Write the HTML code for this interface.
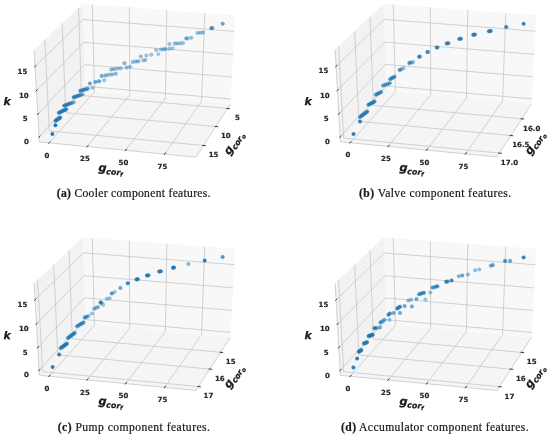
<!DOCTYPE html>
<html lang="en">
<head>
<meta charset="utf-8">
<title>Component features</title>
<style>
html,body{margin:0;padding:0;background:#fff;}
body{width:550px;height:437px;overflow:hidden;}
svg{display:block;}
.cap{font-family:"Liberation Serif","DejaVu Serif",serif;font-size:11.6px;fill:#1a1a1a;stroke:#1a1a1a;stroke-width:0.22px;}
.cap .b{font-weight:bold;}
</style>
</head>
<body>
<svg width="550" height="437" viewBox="0 0 550 437">
<rect width="550" height="437" fill="#ffffff"/>
<g transform="translate(0,0)">
<polygon points="85.41,90.99 230.56,103.85 235.24,15.4 82.82,3.83" fill="#f8f8f8"/>
<polygon points="85.41,90.99 39.4,141.95 34.11,49.81 82.82,3.83" fill="#f2f2f2"/>
<polygon points="85.41,90.99 39.4,141.95 195.97,157.1 230.56,103.85" fill="#f5f5f5"/>
<g fill="none" stroke="#c6c6c6" stroke-width="0.8" stroke-linejoin="round">
<polyline points="39.11,136.98 85.27,86.27 230.81,99.07"/>
<polyline points="37.8,114.11 84.62,64.58 231.98,77.07"/>
<polyline points="36.45,90.62 83.96,42.35 233.17,54.51"/>
<polyline points="35.06,66.49 83.28,19.56 234.39,31.38"/>
<polyline points="49.13,142.89 94.44,91.79 92.3,4.55"/>
<polyline points="87.17,146.57 129.75,94.92 129.35,7.37"/>
<polyline points="125.65,150.29 165.43,98.08 166.81,10.21"/>
<polyline points="164.64,154.07 201.55,101.28 204.75,13.09"/>
<polyline points="227.54,108.5 81.39,95.44 78.58,7.84"/>
<polyline points="215.83,126.52 65.8,112.71 62.11,23.38"/>
<polyline points="203.5,145.5 49.4,130.87 44.73,39.79"/>
<polyline points="34.11,49.81 39.4,141.95 195.97,157.1 230.56,103.85"/>
</g>
<g stroke="#262626" stroke-width="0.9" fill="none">
<line x1="40.25" y1="135.73" x2="38.37" y2="137.8"/>
<line x1="38.97" y1="112.88" x2="37.04" y2="114.91"/>
<line x1="37.64" y1="89.41" x2="35.68" y2="91.41"/>
<line x1="36.28" y1="65.31" x2="34.28" y2="67.26"/>
<line x1="50.39" y1="141.47" x2="48.46" y2="143.64"/>
<line x1="88.38" y1="145.11" x2="86.54" y2="147.35"/>
<line x1="126.8" y1="148.78" x2="125.04" y2="151.09"/>
<line x1="165.73" y1="152.51" x2="164.06" y2="154.89"/>
<line x1="226.35" y1="108.39" x2="229.93" y2="108.71"/>
<line x1="214.64" y1="126.41" x2="218.22" y2="126.74"/>
<line x1="202.31" y1="145.39" x2="205.89" y2="145.73"/>
</g>
<g fill="#1f77b4" stroke="#1f77b4" stroke-width="0.45">
<circle cx="52.4" cy="133.9" r="1.75" fill-opacity="1" stroke-opacity="1"/>
<circle cx="55.4" cy="125.3" r="1.75" fill-opacity="1" stroke-opacity="1"/>
<circle cx="55.6" cy="120.7" r="1.75" fill-opacity="0.9" stroke-opacity="1"/>
<circle cx="56.75" cy="119.92" r="1.75" fill-opacity="0.9" stroke-opacity="1"/>
<circle cx="57.9" cy="119.15" r="1.75" fill-opacity="0.9" stroke-opacity="1"/>
<circle cx="59.05" cy="118.38" r="1.75" fill-opacity="0.9" stroke-opacity="1"/>
<circle cx="60.2" cy="117.6" r="1.75" fill-opacity="0.9" stroke-opacity="1"/>
<circle cx="58.9" cy="112.8" r="1.75" fill-opacity="0.9" stroke-opacity="1"/>
<circle cx="60.5" cy="112" r="1.75" fill-opacity="0.9" stroke-opacity="1"/>
<circle cx="62" cy="111.2" r="1.75" fill-opacity="0.85" stroke-opacity="0.95"/>
<circle cx="63.4" cy="110.6" r="1.75" fill-opacity="0.85" stroke-opacity="0.95"/>
<circle cx="64.9" cy="109.9" r="1.75" fill-opacity="0.8" stroke-opacity="0.9"/>
<circle cx="66.2" cy="109.3" r="1.75" fill-opacity="0.8" stroke-opacity="0.9"/>
<circle cx="64.4" cy="105.6" r="1.75" fill-opacity="0.9" stroke-opacity="1"/>
<circle cx="66.2" cy="105" r="1.75" fill-opacity="0.85" stroke-opacity="0.95"/>
<circle cx="68" cy="104.3" r="1.75" fill-opacity="0.85" stroke-opacity="0.95"/>
<circle cx="69.8" cy="103.6" r="1.75" fill-opacity="0.8" stroke-opacity="0.9"/>
<circle cx="71.8" cy="102.9" r="1.75" fill-opacity="0.7" stroke-opacity="0.8"/>
<circle cx="73.9" cy="102.2" r="1.75" fill-opacity="0.45" stroke-opacity="0.55"/>
<circle cx="73.8" cy="97.2" r="1.75" fill-opacity="0.85" stroke-opacity="0.95"/>
<circle cx="75.5" cy="96.7" r="1.75" fill-opacity="0.85" stroke-opacity="0.95"/>
<circle cx="77.2" cy="96.1" r="1.75" fill-opacity="0.8" stroke-opacity="0.9"/>
<circle cx="79" cy="95.5" r="1.75" fill-opacity="0.75" stroke-opacity="0.85"/>
<circle cx="80.8" cy="95" r="1.75" fill-opacity="0.65" stroke-opacity="0.75"/>
<circle cx="82.7" cy="94.4" r="1.75" fill-opacity="0.45" stroke-opacity="0.55"/>
<circle cx="80.4" cy="90.8" r="1.75" fill-opacity="0.8" stroke-opacity="0.9"/>
<circle cx="82.2" cy="90.3" r="1.75" fill-opacity="0.8" stroke-opacity="0.9"/>
<circle cx="84" cy="89.8" r="1.75" fill-opacity="0.75" stroke-opacity="0.85"/>
<circle cx="85.8" cy="89.2" r="1.75" fill-opacity="0.75" stroke-opacity="0.85"/>
<circle cx="87.7" cy="88.8" r="1.75" fill-opacity="0.7" stroke-opacity="0.8"/>
<circle cx="92.6" cy="87.8" r="1.75" fill-opacity="0.4" stroke-opacity="0.5"/>
<circle cx="89.9" cy="83.4" r="1.75" fill-opacity="0.6" stroke-opacity="0.7"/>
<circle cx="95.4" cy="81.9" r="1.75" fill-opacity="0.65" stroke-opacity="0.75"/>
<circle cx="99.1" cy="81.3" r="1.75" fill-opacity="0.65" stroke-opacity="0.75"/>
<circle cx="104.2" cy="80.2" r="1.75" fill-opacity="0.4" stroke-opacity="0.5"/>
<circle cx="101.7" cy="75.9" r="1.75" fill-opacity="0.6" stroke-opacity="0.7"/>
<circle cx="105.5" cy="75.5" r="1.75" fill-opacity="0.55" stroke-opacity="0.65"/>
<circle cx="108.7" cy="74.8" r="1.75" fill-opacity="0.5" stroke-opacity="0.6"/>
<circle cx="112" cy="74.4" r="1.75" fill-opacity="0.5" stroke-opacity="0.6"/>
<circle cx="115.7" cy="73.7" r="1.75" fill-opacity="0.5" stroke-opacity="0.6"/>
<circle cx="111.3" cy="69.4" r="1.75" fill-opacity="0.5" stroke-opacity="0.6"/>
<circle cx="114.2" cy="68.9" r="1.75" fill-opacity="0.5" stroke-opacity="0.6"/>
<circle cx="117.5" cy="68.5" r="1.75" fill-opacity="0.45" stroke-opacity="0.55"/>
<circle cx="120.7" cy="68.3" r="1.75" fill-opacity="0.45" stroke-opacity="0.55"/>
<circle cx="124.4" cy="63.2" r="1.75" fill-opacity="0.5" stroke-opacity="0.6"/>
<circle cx="126.6" cy="67.4" r="1.75" fill-opacity="0.45" stroke-opacity="0.55"/>
<circle cx="130.1" cy="66.7" r="1.75" fill-opacity="0.45" stroke-opacity="0.55"/>
<circle cx="132.7" cy="61.9" r="1.75" fill-opacity="0.45" stroke-opacity="0.55"/>
<circle cx="135.6" cy="61.5" r="1.75" fill-opacity="0.5" stroke-opacity="0.6"/>
<circle cx="138.2" cy="61.3" r="1.75" fill-opacity="0.5" stroke-opacity="0.6"/>
<circle cx="143.2" cy="60.4" r="1.75" fill-opacity="0.4" stroke-opacity="0.5"/>
<circle cx="145.4" cy="60" r="1.75" fill-opacity="0.4" stroke-opacity="0.5"/>
<circle cx="140.8" cy="56.5" r="1.75" fill-opacity="0.45" stroke-opacity="0.55"/>
<circle cx="146.3" cy="55.4" r="1.75" fill-opacity="0.4" stroke-opacity="0.5"/>
<circle cx="151.3" cy="54.7" r="1.75" fill-opacity="0.4" stroke-opacity="0.5"/>
<circle cx="158.3" cy="54.1" r="1.75" fill-opacity="0.35" stroke-opacity="0.45"/>
<circle cx="156.1" cy="49.9" r="1.75" fill-opacity="0.4" stroke-opacity="0.5"/>
<circle cx="160.7" cy="49.5" r="1.75" fill-opacity="0.4" stroke-opacity="0.5"/>
<circle cx="163.3" cy="49.3" r="1.75" fill-opacity="0.45" stroke-opacity="0.55"/>
<circle cx="165.5" cy="49.1" r="1.75" fill-opacity="0.5" stroke-opacity="0.6"/>
<circle cx="169.4" cy="48.8" r="1.75" fill-opacity="0.4" stroke-opacity="0.5"/>
<circle cx="172.7" cy="48.2" r="1.75" fill-opacity="0.35" stroke-opacity="0.45"/>
<circle cx="169.4" cy="44" r="1.75" fill-opacity="0.4" stroke-opacity="0.5"/>
<circle cx="174.8" cy="43.6" r="1.75" fill-opacity="0.45" stroke-opacity="0.55"/>
<circle cx="177.5" cy="43.4" r="1.75" fill-opacity="0.45" stroke-opacity="0.55"/>
<circle cx="180.3" cy="43.2" r="1.75" fill-opacity="0.4" stroke-opacity="0.5"/>
<circle cx="182.9" cy="43" r="1.75" fill-opacity="0.4" stroke-opacity="0.5"/>
<circle cx="186.2" cy="38.4" r="1.75" fill-opacity="0.5" stroke-opacity="0.6"/>
<circle cx="191.2" cy="37.7" r="1.75" fill-opacity="0.45" stroke-opacity="0.55"/>
<circle cx="187.5" cy="38.3" r="1.75" fill-opacity="0.4" stroke-opacity="0.5"/>
<circle cx="197.5" cy="32.9" r="1.75" fill-opacity="0.45" stroke-opacity="0.55"/>
<circle cx="200.4" cy="32.7" r="1.75" fill-opacity="0.45" stroke-opacity="0.55"/>
<circle cx="203" cy="32.5" r="1.75" fill-opacity="0.45" stroke-opacity="0.55"/>
<circle cx="211.3" cy="28.2" r="1.75" fill-opacity="0.6" stroke-opacity="0.7"/>
<circle cx="212.3" cy="28" r="1.75" fill-opacity="0.6" stroke-opacity="0.7"/>
<circle cx="222.7" cy="23.7" r="1.75" fill-opacity="0.65" stroke-opacity="0.75"/>
</g>
<g font-family="'DejaVu Sans','Liberation Sans',sans-serif" font-weight="bold" font-size="7" fill="#262626" stroke="#262626" stroke-width="0.18" text-anchor="middle">
<text x="26.51" y="144.13">0</text>
<text x="25.2" y="121.26">5</text>
<text x="23.85" y="97.77">10</text>
<text x="22.46" y="73.64">15</text>
<text x="46.93" y="157.54">0</text>
<text x="84.97" y="161.22">25</text>
<text x="123.45" y="164.94">50</text>
<text x="162.44" y="168.72">75</text>
<text x="237.54" y="120.35">5</text>
<text x="225.83" y="138.37">10</text>
<text x="213.5" y="157.35">15</text>
</g>
<g font-family="'DejaVu Sans','Liberation Sans',sans-serif" font-weight="bold" font-style="italic" fill="#1a1a1a" stroke="#1a1a1a" stroke-width="0.25">
<text x="3.6" y="105.3" font-size="10.8">k</text>
<text transform="translate(98.2,171.3) rotate(4.2)" font-size="11.3">g<tspan font-size="7.9" dy="2.3">cor</tspan><tspan font-size="5.6" dy="1.3">f</tspan></text>
<text transform="translate(229.6,155.6) rotate(-57)" font-size="11.3" letter-spacing="-0.15">g<tspan font-size="7.9" dy="2.2">cor</tspan><tspan font-size="6" dy="1.2">o</tspan></text>
</g>
</g>
<g transform="translate(301,-0.2)">
<polygon points="85.41,90.99 230.56,103.85 235.24,15.4 82.82,3.83" fill="#f8f8f8"/>
<polygon points="85.41,90.99 39.4,141.95 34.11,49.81 82.82,3.83" fill="#f2f2f2"/>
<polygon points="85.41,90.99 39.4,141.95 195.97,157.1 230.56,103.85" fill="#f5f5f5"/>
<g fill="none" stroke="#c6c6c6" stroke-width="0.8" stroke-linejoin="round">
<polyline points="39.11,136.98 85.27,86.27 230.81,99.07"/>
<polyline points="37.8,114.11 84.62,64.58 231.98,77.07"/>
<polyline points="36.45,90.62 83.96,42.35 233.17,54.51"/>
<polyline points="35.06,66.49 83.28,19.56 234.39,31.38"/>
<polyline points="49.13,142.89 94.44,91.79 92.3,4.55"/>
<polyline points="87.17,146.57 129.75,94.92 129.35,7.37"/>
<polyline points="125.65,150.29 165.43,98.08 166.81,10.21"/>
<polyline points="164.64,154.07 201.55,101.28 204.75,13.09"/>
<polyline points="220.72,119 72.3,105.5 68.99,16.89"/>
<polyline points="209.83,135.77 57.81,121.56 53.65,31.37"/>
<polyline points="198.44,153.3 42.67,138.33 37.59,46.53"/>
<polyline points="34.11,49.81 39.4,141.95 195.97,157.1 230.56,103.85"/>
</g>
<g stroke="#262626" stroke-width="0.9" fill="none">
<line x1="40.25" y1="135.73" x2="38.37" y2="137.8"/>
<line x1="38.97" y1="112.88" x2="37.04" y2="114.91"/>
<line x1="37.64" y1="89.41" x2="35.68" y2="91.41"/>
<line x1="36.28" y1="65.31" x2="34.28" y2="67.26"/>
<line x1="50.39" y1="141.47" x2="48.46" y2="143.64"/>
<line x1="88.38" y1="145.11" x2="86.54" y2="147.35"/>
<line x1="126.8" y1="148.78" x2="125.04" y2="151.09"/>
<line x1="165.73" y1="152.51" x2="164.06" y2="154.89"/>
<line x1="219.53" y1="118.89" x2="223.11" y2="119.21"/>
<line x1="208.63" y1="135.65" x2="212.22" y2="135.99"/>
<line x1="197.24" y1="153.19" x2="200.82" y2="153.53"/>
</g>
<g fill="#1f77b4" stroke="#1f77b4" stroke-width="0.45">
<circle cx="52.5" cy="134.2" r="1.75" fill-opacity="0.95" stroke-opacity="1"/>
<circle cx="59" cy="121.7" r="1.75" fill-opacity="0.9" stroke-opacity="1"/>
<circle cx="59.2" cy="117.1" r="1.75" fill-opacity="0.85" stroke-opacity="0.95"/>
<circle cx="60.6" cy="116.04" r="1.75" fill-opacity="0.85" stroke-opacity="0.95"/>
<circle cx="62" cy="114.98" r="1.75" fill-opacity="0.85" stroke-opacity="0.95"/>
<circle cx="63.4" cy="113.92" r="1.75" fill-opacity="0.85" stroke-opacity="0.95"/>
<circle cx="64.8" cy="112.86" r="1.75" fill-opacity="0.85" stroke-opacity="0.95"/>
<circle cx="66.2" cy="111.8" r="1.75" fill-opacity="0.85" stroke-opacity="0.95"/>
<circle cx="67.5" cy="105" r="1.75" fill-opacity="0.8" stroke-opacity="0.9"/>
<circle cx="68.98" cy="104.2" r="1.75" fill-opacity="0.8" stroke-opacity="0.9"/>
<circle cx="70.45" cy="103.4" r="1.75" fill-opacity="0.8" stroke-opacity="0.9"/>
<circle cx="71.92" cy="102.6" r="1.75" fill-opacity="0.8" stroke-opacity="0.9"/>
<circle cx="73.4" cy="101.8" r="1.75" fill-opacity="0.8" stroke-opacity="0.9"/>
<circle cx="74.9" cy="94.9" r="1.75" fill-opacity="0.75" stroke-opacity="0.85"/>
<circle cx="76.6" cy="94" r="1.75" fill-opacity="0.75" stroke-opacity="0.85"/>
<circle cx="78.3" cy="93.1" r="1.75" fill-opacity="0.75" stroke-opacity="0.85"/>
<circle cx="80" cy="92.2" r="1.75" fill-opacity="0.75" stroke-opacity="0.85"/>
<circle cx="82.2" cy="85.8" r="1.75" fill-opacity="0.7" stroke-opacity="0.8"/>
<circle cx="84.37" cy="85.03" r="1.75" fill-opacity="0.7" stroke-opacity="0.8"/>
<circle cx="86.53" cy="84.27" r="1.75" fill-opacity="0.7" stroke-opacity="0.8"/>
<circle cx="88.7" cy="83.5" r="1.75" fill-opacity="0.7" stroke-opacity="0.8"/>
<circle cx="89.2" cy="79.4" r="1.75" fill-opacity="0.7" stroke-opacity="0.8"/>
<circle cx="90.63" cy="78.57" r="1.75" fill-opacity="0.7" stroke-opacity="0.8"/>
<circle cx="92.07" cy="77.73" r="1.75" fill-opacity="0.7" stroke-opacity="0.8"/>
<circle cx="93.5" cy="76.9" r="1.75" fill-opacity="0.7" stroke-opacity="0.8"/>
<circle cx="98.7" cy="70.2" r="1.75" fill-opacity="0.7" stroke-opacity="0.8"/>
<circle cx="100.2" cy="69.5" r="1.75" fill-opacity="0.5" stroke-opacity="0.6"/>
<circle cx="102.5" cy="68.4" r="1.75" fill-opacity="0.4" stroke-opacity="0.5"/>
<circle cx="108.4" cy="63.3" r="1.75" fill-opacity="0.75" stroke-opacity="0.85"/>
<circle cx="110.2" cy="62.8" r="1.75" fill-opacity="0.6" stroke-opacity="0.7"/>
<circle cx="112.2" cy="62.3" r="1.75" fill-opacity="0.4" stroke-opacity="0.5"/>
<circle cx="118.2" cy="57" r="1.75" fill-opacity="0.8" stroke-opacity="0.9"/>
<circle cx="119" cy="56.8" r="1.75" fill-opacity="0.5" stroke-opacity="0.6"/>
<circle cx="126.4" cy="52.3" r="1.75" fill-opacity="0.8" stroke-opacity="0.9"/>
<circle cx="127.2" cy="52.1" r="1.75" fill-opacity="0.4" stroke-opacity="0.5"/>
<circle cx="135.7" cy="47.7" r="1.75" fill-opacity="0.8" stroke-opacity="0.9"/>
<circle cx="136.7" cy="47.6" r="1.75" fill-opacity="0.5" stroke-opacity="0.6"/>
<circle cx="145.7" cy="43.6" r="1.75" fill-opacity="0.85" stroke-opacity="0.95"/>
<circle cx="147.3" cy="43.4" r="1.75" fill-opacity="0.85" stroke-opacity="0.95"/>
<circle cx="158.3" cy="39.1" r="1.75" fill-opacity="0.85" stroke-opacity="0.95"/>
<circle cx="159.9" cy="38.9" r="1.75" fill-opacity="0.85" stroke-opacity="0.95"/>
<circle cx="172.3" cy="35" r="1.75" fill-opacity="0.9" stroke-opacity="1"/>
<circle cx="173.9" cy="34.8" r="1.75" fill-opacity="0.9" stroke-opacity="1"/>
<circle cx="188" cy="31.4" r="1.75" fill-opacity="0.9" stroke-opacity="1"/>
<circle cx="189.7" cy="31.1" r="1.75" fill-opacity="0.9" stroke-opacity="1"/>
<circle cx="205.2" cy="27.2" r="1.75" fill-opacity="0.9" stroke-opacity="1"/>
<circle cx="222.6" cy="24" r="1.75" fill-opacity="0.9" stroke-opacity="1"/>
</g>
<g font-family="'DejaVu Sans','Liberation Sans',sans-serif" font-weight="bold" font-size="7" fill="#262626" stroke="#262626" stroke-width="0.18" text-anchor="middle">
<text x="26.51" y="144.13">0</text>
<text x="25.2" y="121.26">5</text>
<text x="23.85" y="97.77">10</text>
<text x="22.46" y="73.64">15</text>
<text x="46.93" y="157.54">0</text>
<text x="84.97" y="161.22">25</text>
<text x="123.45" y="164.94">50</text>
<text x="162.44" y="168.72">75</text>
<text x="230.72" y="130.85">16.0</text>
<text x="219.83" y="147.62">16.5</text>
<text x="208.44" y="165.15">17.0</text>
</g>
<g font-family="'DejaVu Sans','Liberation Sans',sans-serif" font-weight="bold" font-style="italic" fill="#1a1a1a" stroke="#1a1a1a" stroke-width="0.25">
<text x="3.6" y="105.3" font-size="10.8">k</text>
<text transform="translate(98.2,171.3) rotate(4.2)" font-size="11.3">g<tspan font-size="7.9" dy="2.3">cor</tspan><tspan font-size="5.6" dy="1.3">f</tspan></text>
<text transform="translate(229.6,155.6) rotate(-57)" font-size="11.3" letter-spacing="-0.15">g<tspan font-size="7.9" dy="2.2">cor</tspan><tspan font-size="6" dy="1.2">o</tspan></text>
</g>
</g>
<g transform="translate(0,233.3)">
<polygon points="85.41,90.99 230.56,103.85 235.24,15.4 82.82,3.83" fill="#f8f8f8"/>
<polygon points="85.41,90.99 39.4,141.95 34.11,49.81 82.82,3.83" fill="#f2f2f2"/>
<polygon points="85.41,90.99 39.4,141.95 195.97,157.1 230.56,103.85" fill="#f5f5f5"/>
<g fill="none" stroke="#c6c6c6" stroke-width="0.8" stroke-linejoin="round">
<polyline points="39.11,136.98 85.27,86.27 230.81,99.07"/>
<polyline points="37.8,114.11 84.62,64.58 231.98,77.07"/>
<polyline points="36.45,90.62 83.96,42.35 233.17,54.51"/>
<polyline points="35.06,66.49 83.28,19.56 234.39,31.38"/>
<polyline points="49.13,142.89 94.44,91.79 92.3,4.55"/>
<polyline points="87.17,146.57 129.75,94.92 129.35,7.37"/>
<polyline points="125.65,150.29 165.43,98.08 166.81,10.21"/>
<polyline points="164.64,154.07 201.55,101.28 204.75,13.09"/>
<polyline points="220.72,119 72.3,105.5 68.99,16.89"/>
<polyline points="209.83,135.77 57.81,121.56 53.65,31.37"/>
<polyline points="198.44,153.3 42.67,138.33 37.59,46.53"/>
<polyline points="34.11,49.81 39.4,141.95 195.97,157.1 230.56,103.85"/>
</g>
<g stroke="#262626" stroke-width="0.9" fill="none">
<line x1="40.25" y1="135.73" x2="38.37" y2="137.8"/>
<line x1="38.97" y1="112.88" x2="37.04" y2="114.91"/>
<line x1="37.64" y1="89.41" x2="35.68" y2="91.41"/>
<line x1="36.28" y1="65.31" x2="34.28" y2="67.26"/>
<line x1="50.39" y1="141.47" x2="48.46" y2="143.64"/>
<line x1="88.38" y1="145.11" x2="86.54" y2="147.35"/>
<line x1="126.8" y1="148.78" x2="125.04" y2="151.09"/>
<line x1="165.73" y1="152.51" x2="164.06" y2="154.89"/>
<line x1="219.53" y1="118.89" x2="223.11" y2="119.21"/>
<line x1="208.63" y1="135.65" x2="212.22" y2="135.99"/>
<line x1="197.24" y1="153.19" x2="200.82" y2="153.53"/>
</g>
<g fill="#1f77b4" stroke="#1f77b4" stroke-width="0.45">
<circle cx="52.6" cy="133.8" r="1.75" fill-opacity="0.95" stroke-opacity="1"/>
<circle cx="59.2" cy="121.3" r="1.75" fill-opacity="0.9" stroke-opacity="1"/>
<circle cx="60.8" cy="114.8" r="1.75" fill-opacity="0.85" stroke-opacity="0.95"/>
<circle cx="62.02" cy="113.92" r="1.75" fill-opacity="0.85" stroke-opacity="0.95"/>
<circle cx="63.24" cy="113.04" r="1.75" fill-opacity="0.85" stroke-opacity="0.95"/>
<circle cx="64.46" cy="112.16" r="1.75" fill-opacity="0.85" stroke-opacity="0.95"/>
<circle cx="65.68" cy="111.28" r="1.75" fill-opacity="0.85" stroke-opacity="0.95"/>
<circle cx="66.9" cy="110.4" r="1.75" fill-opacity="0.85" stroke-opacity="0.95"/>
<circle cx="68" cy="104.7" r="1.75" fill-opacity="0.8" stroke-opacity="0.9"/>
<circle cx="69.32" cy="103.72" r="1.75" fill-opacity="0.8" stroke-opacity="0.9"/>
<circle cx="70.64" cy="102.74" r="1.75" fill-opacity="0.8" stroke-opacity="0.9"/>
<circle cx="71.96" cy="101.76" r="1.75" fill-opacity="0.8" stroke-opacity="0.9"/>
<circle cx="73.28" cy="100.78" r="1.75" fill-opacity="0.8" stroke-opacity="0.9"/>
<circle cx="74.6" cy="99.8" r="1.75" fill-opacity="0.8" stroke-opacity="0.9"/>
<circle cx="77.1" cy="92.9" r="1.75" fill-opacity="0.7" stroke-opacity="0.8"/>
<circle cx="78.7" cy="91.98" r="1.75" fill-opacity="0.7" stroke-opacity="0.8"/>
<circle cx="80.3" cy="91.05" r="1.75" fill-opacity="0.7" stroke-opacity="0.8"/>
<circle cx="81.9" cy="90.12" r="1.75" fill-opacity="0.7" stroke-opacity="0.8"/>
<circle cx="83.5" cy="89.2" r="1.75" fill-opacity="0.7" stroke-opacity="0.8"/>
<circle cx="84.8" cy="84.3" r="1.75" fill-opacity="0.75" stroke-opacity="0.85"/>
<circle cx="86.5" cy="83.5" r="1.75" fill-opacity="0.7" stroke-opacity="0.8"/>
<circle cx="88.5" cy="82.6" r="1.75" fill-opacity="0.5" stroke-opacity="0.6"/>
<circle cx="92.1" cy="80.1" r="1.75" fill-opacity="0.4" stroke-opacity="0.5"/>
<circle cx="94.2" cy="75.4" r="1.75" fill-opacity="0.5" stroke-opacity="0.6"/>
<circle cx="96.2" cy="74.5" r="1.75" fill-opacity="0.5" stroke-opacity="0.6"/>
<circle cx="98.2" cy="73.8" r="1.75" fill-opacity="0.45" stroke-opacity="0.55"/>
<circle cx="100.6" cy="69.1" r="1.75" fill-opacity="0.85" stroke-opacity="0.95"/>
<circle cx="101.4" cy="69.5" r="1.75" fill-opacity="0.6" stroke-opacity="0.7"/>
<circle cx="103.1" cy="71.5" r="1.75" fill-opacity="0.4" stroke-opacity="0.5"/>
<circle cx="106.8" cy="65.4" r="1.75" fill-opacity="0.4" stroke-opacity="0.5"/>
<circle cx="109.7" cy="65" r="1.75" fill-opacity="0.4" stroke-opacity="0.5"/>
<circle cx="111.8" cy="60.1" r="1.75" fill-opacity="0.75" stroke-opacity="0.85"/>
<circle cx="114.6" cy="58.8" r="1.75" fill-opacity="0.4" stroke-opacity="0.5"/>
<circle cx="120.4" cy="54.6" r="1.75" fill-opacity="0.6" stroke-opacity="0.7"/>
<circle cx="127.8" cy="50" r="1.75" fill-opacity="0.9" stroke-opacity="1"/>
<circle cx="136.5" cy="46.1" r="1.75" fill-opacity="0.9" stroke-opacity="1"/>
<circle cx="137.8" cy="45.9" r="1.75" fill-opacity="0.9" stroke-opacity="1"/>
<circle cx="147" cy="42.2" r="1.75" fill-opacity="0.9" stroke-opacity="1"/>
<circle cx="148.4" cy="42" r="1.75" fill-opacity="0.9" stroke-opacity="1"/>
<circle cx="159.2" cy="38.2" r="1.75" fill-opacity="0.9" stroke-opacity="1"/>
<circle cx="160.8" cy="38" r="1.75" fill-opacity="0.9" stroke-opacity="1"/>
<circle cx="173" cy="34.5" r="1.75" fill-opacity="0.9" stroke-opacity="1"/>
<circle cx="174" cy="34.3" r="1.75" fill-opacity="0.9" stroke-opacity="1"/>
<circle cx="188.4" cy="30.8" r="1.75" fill-opacity="0.5" stroke-opacity="0.6"/>
<circle cx="204.7" cy="27.3" r="1.75" fill-opacity="0.9" stroke-opacity="1"/>
<circle cx="222.6" cy="23.7" r="1.75" fill-opacity="0.75" stroke-opacity="0.85"/>
</g>
<g font-family="'DejaVu Sans','Liberation Sans',sans-serif" font-weight="bold" font-size="7" fill="#262626" stroke="#262626" stroke-width="0.18" text-anchor="middle">
<text x="26.51" y="144.13">0</text>
<text x="25.2" y="121.26">5</text>
<text x="23.85" y="97.77">10</text>
<text x="22.46" y="73.64">15</text>
<text x="46.93" y="157.54">0</text>
<text x="84.97" y="161.22">25</text>
<text x="123.45" y="164.94">50</text>
<text x="162.44" y="168.72">75</text>
<text x="230.72" y="130.85">15</text>
<text x="219.83" y="147.62">16</text>
<text x="208.44" y="165.15">17</text>
</g>
<g font-family="'DejaVu Sans','Liberation Sans',sans-serif" font-weight="bold" font-style="italic" fill="#1a1a1a" stroke="#1a1a1a" stroke-width="0.25">
<text x="3.6" y="105.3" font-size="10.8">k</text>
<text transform="translate(98.2,171.3) rotate(4.2)" font-size="11.3">g<tspan font-size="7.9" dy="2.3">cor</tspan><tspan font-size="5.6" dy="1.3">f</tspan></text>
<text transform="translate(229.6,155.6) rotate(-57)" font-size="11.3" letter-spacing="-0.15">g<tspan font-size="7.9" dy="2.2">cor</tspan><tspan font-size="6" dy="1.2">o</tspan></text>
</g>
</g>
<g transform="translate(301,233.4)">
<polygon points="85.41,90.99 230.56,103.85 235.24,15.4 82.82,3.83" fill="#f8f8f8"/>
<polygon points="85.41,90.99 39.4,141.95 34.11,49.81 82.82,3.83" fill="#f2f2f2"/>
<polygon points="85.41,90.99 39.4,141.95 195.97,157.1 230.56,103.85" fill="#f5f5f5"/>
<g fill="none" stroke="#c6c6c6" stroke-width="0.8" stroke-linejoin="round">
<polyline points="39.11,136.98 85.27,86.27 230.81,99.07"/>
<polyline points="37.8,114.11 84.62,64.58 231.98,77.07"/>
<polyline points="36.45,90.62 83.96,42.35 233.17,54.51"/>
<polyline points="35.06,66.49 83.28,19.56 234.39,31.38"/>
<polyline points="49.13,142.89 94.44,91.79 92.3,4.55"/>
<polyline points="87.17,146.57 129.75,94.92 129.35,7.37"/>
<polyline points="125.65,150.29 165.43,98.08 166.81,10.21"/>
<polyline points="164.64,154.07 201.55,101.28 204.75,13.09"/>
<polyline points="220.72,119 72.3,105.5 68.99,16.89"/>
<polyline points="209.83,135.77 57.81,121.56 53.65,31.37"/>
<polyline points="198.44,153.3 42.67,138.33 37.59,46.53"/>
<polyline points="34.11,49.81 39.4,141.95 195.97,157.1 230.56,103.85"/>
</g>
<g stroke="#262626" stroke-width="0.9" fill="none">
<line x1="40.25" y1="135.73" x2="38.37" y2="137.8"/>
<line x1="38.97" y1="112.88" x2="37.04" y2="114.91"/>
<line x1="37.64" y1="89.41" x2="35.68" y2="91.41"/>
<line x1="36.28" y1="65.31" x2="34.28" y2="67.26"/>
<line x1="50.39" y1="141.47" x2="48.46" y2="143.64"/>
<line x1="88.38" y1="145.11" x2="86.54" y2="147.35"/>
<line x1="126.8" y1="148.78" x2="125.04" y2="151.09"/>
<line x1="165.73" y1="152.51" x2="164.06" y2="154.89"/>
<line x1="219.53" y1="118.89" x2="223.11" y2="119.21"/>
<line x1="208.63" y1="135.65" x2="212.22" y2="135.99"/>
<line x1="197.24" y1="153.19" x2="200.82" y2="153.53"/>
</g>
<g fill="#1f77b4" stroke="#1f77b4" stroke-width="0.45">
<circle cx="52.4" cy="134" r="1.75" fill-opacity="0.95" stroke-opacity="1"/>
<circle cx="56.1" cy="125.2" r="1.75" fill-opacity="0.95" stroke-opacity="1"/>
<circle cx="57.8" cy="118.3" r="1.75" fill-opacity="0.9" stroke-opacity="1"/>
<circle cx="58.63" cy="117.77" r="1.75" fill-opacity="0.9" stroke-opacity="1"/>
<circle cx="59.47" cy="117.23" r="1.75" fill-opacity="0.9" stroke-opacity="1"/>
<circle cx="60.3" cy="116.7" r="1.75" fill-opacity="0.9" stroke-opacity="1"/>
<circle cx="63" cy="110.1" r="1.75" fill-opacity="0.9" stroke-opacity="1"/>
<circle cx="63.97" cy="109.7" r="1.75" fill-opacity="0.9" stroke-opacity="1"/>
<circle cx="64.93" cy="109.3" r="1.75" fill-opacity="0.9" stroke-opacity="1"/>
<circle cx="65.9" cy="108.9" r="1.75" fill-opacity="0.9" stroke-opacity="1"/>
<circle cx="67.6" cy="102.7" r="1.75" fill-opacity="0.85" stroke-opacity="0.95"/>
<circle cx="68.63" cy="102.35" r="1.75" fill-opacity="0.85" stroke-opacity="0.95"/>
<circle cx="69.65" cy="102" r="1.75" fill-opacity="0.85" stroke-opacity="0.95"/>
<circle cx="70.67" cy="101.65" r="1.75" fill-opacity="0.85" stroke-opacity="0.95"/>
<circle cx="71.7" cy="101.3" r="1.75" fill-opacity="0.85" stroke-opacity="0.95"/>
<circle cx="73.4" cy="94.8" r="1.75" fill-opacity="0.85" stroke-opacity="0.95"/>
<circle cx="75.2" cy="94.5" r="1.75" fill-opacity="0.8" stroke-opacity="0.9"/>
<circle cx="78.9" cy="94.1" r="1.75" fill-opacity="0.6" stroke-opacity="0.7"/>
<circle cx="79.4" cy="89.1" r="1.75" fill-opacity="0.7" stroke-opacity="0.8"/>
<circle cx="81.2" cy="87.9" r="1.75" fill-opacity="0.7" stroke-opacity="0.8"/>
<circle cx="83.5" cy="86.5" r="1.75" fill-opacity="0.65" stroke-opacity="0.75"/>
<circle cx="88.6" cy="86.4" r="1.75" fill-opacity="0.4" stroke-opacity="0.5"/>
<circle cx="87.5" cy="81.3" r="1.75" fill-opacity="0.85" stroke-opacity="0.95"/>
<circle cx="88.9" cy="80.1" r="1.75" fill-opacity="0.8" stroke-opacity="0.9"/>
<circle cx="92.6" cy="79.6" r="1.75" fill-opacity="0.6" stroke-opacity="0.7"/>
<circle cx="99" cy="79.6" r="1.75" fill-opacity="0.6" stroke-opacity="0.7"/>
<circle cx="96.3" cy="75" r="1.75" fill-opacity="0.85" stroke-opacity="0.95"/>
<circle cx="97.7" cy="74.1" r="1.75" fill-opacity="0.8" stroke-opacity="0.9"/>
<circle cx="99" cy="73.3" r="1.75" fill-opacity="0.8" stroke-opacity="0.9"/>
<circle cx="103.6" cy="72.7" r="1.75" fill-opacity="0.6" stroke-opacity="0.7"/>
<circle cx="110.9" cy="73" r="1.75" fill-opacity="0.6" stroke-opacity="0.7"/>
<circle cx="107.3" cy="67.2" r="1.75" fill-opacity="0.45" stroke-opacity="0.55"/>
<circle cx="110" cy="66.3" r="1.75" fill-opacity="0.45" stroke-opacity="0.55"/>
<circle cx="115.5" cy="65.7" r="1.75" fill-opacity="0.6" stroke-opacity="0.7"/>
<circle cx="124.3" cy="66.1" r="1.75" fill-opacity="0.4" stroke-opacity="0.5"/>
<circle cx="118.2" cy="60.8" r="1.75" fill-opacity="0.8" stroke-opacity="0.9"/>
<circle cx="120.3" cy="60.1" r="1.75" fill-opacity="0.85" stroke-opacity="0.95"/>
<circle cx="122.8" cy="59.4" r="1.75" fill-opacity="0.85" stroke-opacity="0.95"/>
<circle cx="129.3" cy="59.1" r="1.75" fill-opacity="0.4" stroke-opacity="0.5"/>
<circle cx="131.6" cy="54.2" r="1.75" fill-opacity="0.75" stroke-opacity="0.85"/>
<circle cx="134.2" cy="53.6" r="1.75" fill-opacity="0.8" stroke-opacity="0.9"/>
<circle cx="136.3" cy="52.9" r="1.75" fill-opacity="0.85" stroke-opacity="0.95"/>
<circle cx="145.2" cy="48.4" r="1.75" fill-opacity="0.85" stroke-opacity="0.95"/>
<circle cx="146.7" cy="48.1" r="1.75" fill-opacity="0.7" stroke-opacity="0.8"/>
<circle cx="150.6" cy="47.1" r="1.75" fill-opacity="0.85" stroke-opacity="0.95"/>
<circle cx="157.8" cy="42.8" r="1.75" fill-opacity="0.5" stroke-opacity="0.6"/>
<circle cx="161.3" cy="42" r="1.75" fill-opacity="0.65" stroke-opacity="0.75"/>
<circle cx="167" cy="41.2" r="1.75" fill-opacity="0.45" stroke-opacity="0.55"/>
<circle cx="174.2" cy="36.9" r="1.75" fill-opacity="0.45" stroke-opacity="0.55"/>
<circle cx="178.3" cy="36" r="1.75" fill-opacity="0.4" stroke-opacity="0.5"/>
<circle cx="189.9" cy="32.3" r="1.75" fill-opacity="0.6" stroke-opacity="0.7"/>
<circle cx="191.9" cy="31.5" r="1.75" fill-opacity="0.6" stroke-opacity="0.7"/>
<circle cx="204.1" cy="27.5" r="1.75" fill-opacity="0.85" stroke-opacity="0.95"/>
<circle cx="209.1" cy="27.5" r="1.75" fill-opacity="0.65" stroke-opacity="0.75"/>
<circle cx="222.6" cy="24" r="1.75" fill-opacity="0.9" stroke-opacity="1"/>
</g>
<g font-family="'DejaVu Sans','Liberation Sans',sans-serif" font-weight="bold" font-size="7" fill="#262626" stroke="#262626" stroke-width="0.18" text-anchor="middle">
<text x="26.51" y="144.13">0</text>
<text x="25.2" y="121.26">5</text>
<text x="23.85" y="97.77">10</text>
<text x="22.46" y="73.64">15</text>
<text x="46.93" y="157.54">0</text>
<text x="84.97" y="161.22">25</text>
<text x="123.45" y="164.94">50</text>
<text x="162.44" y="168.72">75</text>
<text x="230.72" y="130.85">15</text>
<text x="219.83" y="147.62">16</text>
<text x="208.44" y="165.15">17</text>
</g>
<g font-family="'DejaVu Sans','Liberation Sans',sans-serif" font-weight="bold" font-style="italic" fill="#1a1a1a" stroke="#1a1a1a" stroke-width="0.25">
<text x="3.6" y="105.3" font-size="10.8">k</text>
<text transform="translate(98.2,171.3) rotate(4.2)" font-size="11.3">g<tspan font-size="7.9" dy="2.3">cor</tspan><tspan font-size="5.6" dy="1.3">f</tspan></text>
<text transform="translate(229.6,155.6) rotate(-57)" font-size="11.3" letter-spacing="-0.15">g<tspan font-size="7.9" dy="2.2">cor</tspan><tspan font-size="6" dy="1.2">o</tspan></text>
</g>
</g>
<text class="cap" x="133.8" y="196.9" text-anchor="middle" letter-spacing="0.305" xml:space="preserve"><tspan class="b">(a)</tspan> Cooler component features.</text>
<text class="cap" x="435.3" y="196.9" text-anchor="middle" letter-spacing="0.424" xml:space="preserve"><tspan class="b">(b)</tspan> Valve component features.</text>
<text class="cap" x="134.1" y="430.6" text-anchor="middle" letter-spacing="0.459" xml:space="preserve"><tspan class="b">(c)</tspan> Pump component features.</text>
<text class="cap" x="435" y="430.6" text-anchor="middle" letter-spacing="0.402" xml:space="preserve"><tspan class="b">(d)</tspan> Accumulator component features.</text>
</svg>
</body>
</html>
